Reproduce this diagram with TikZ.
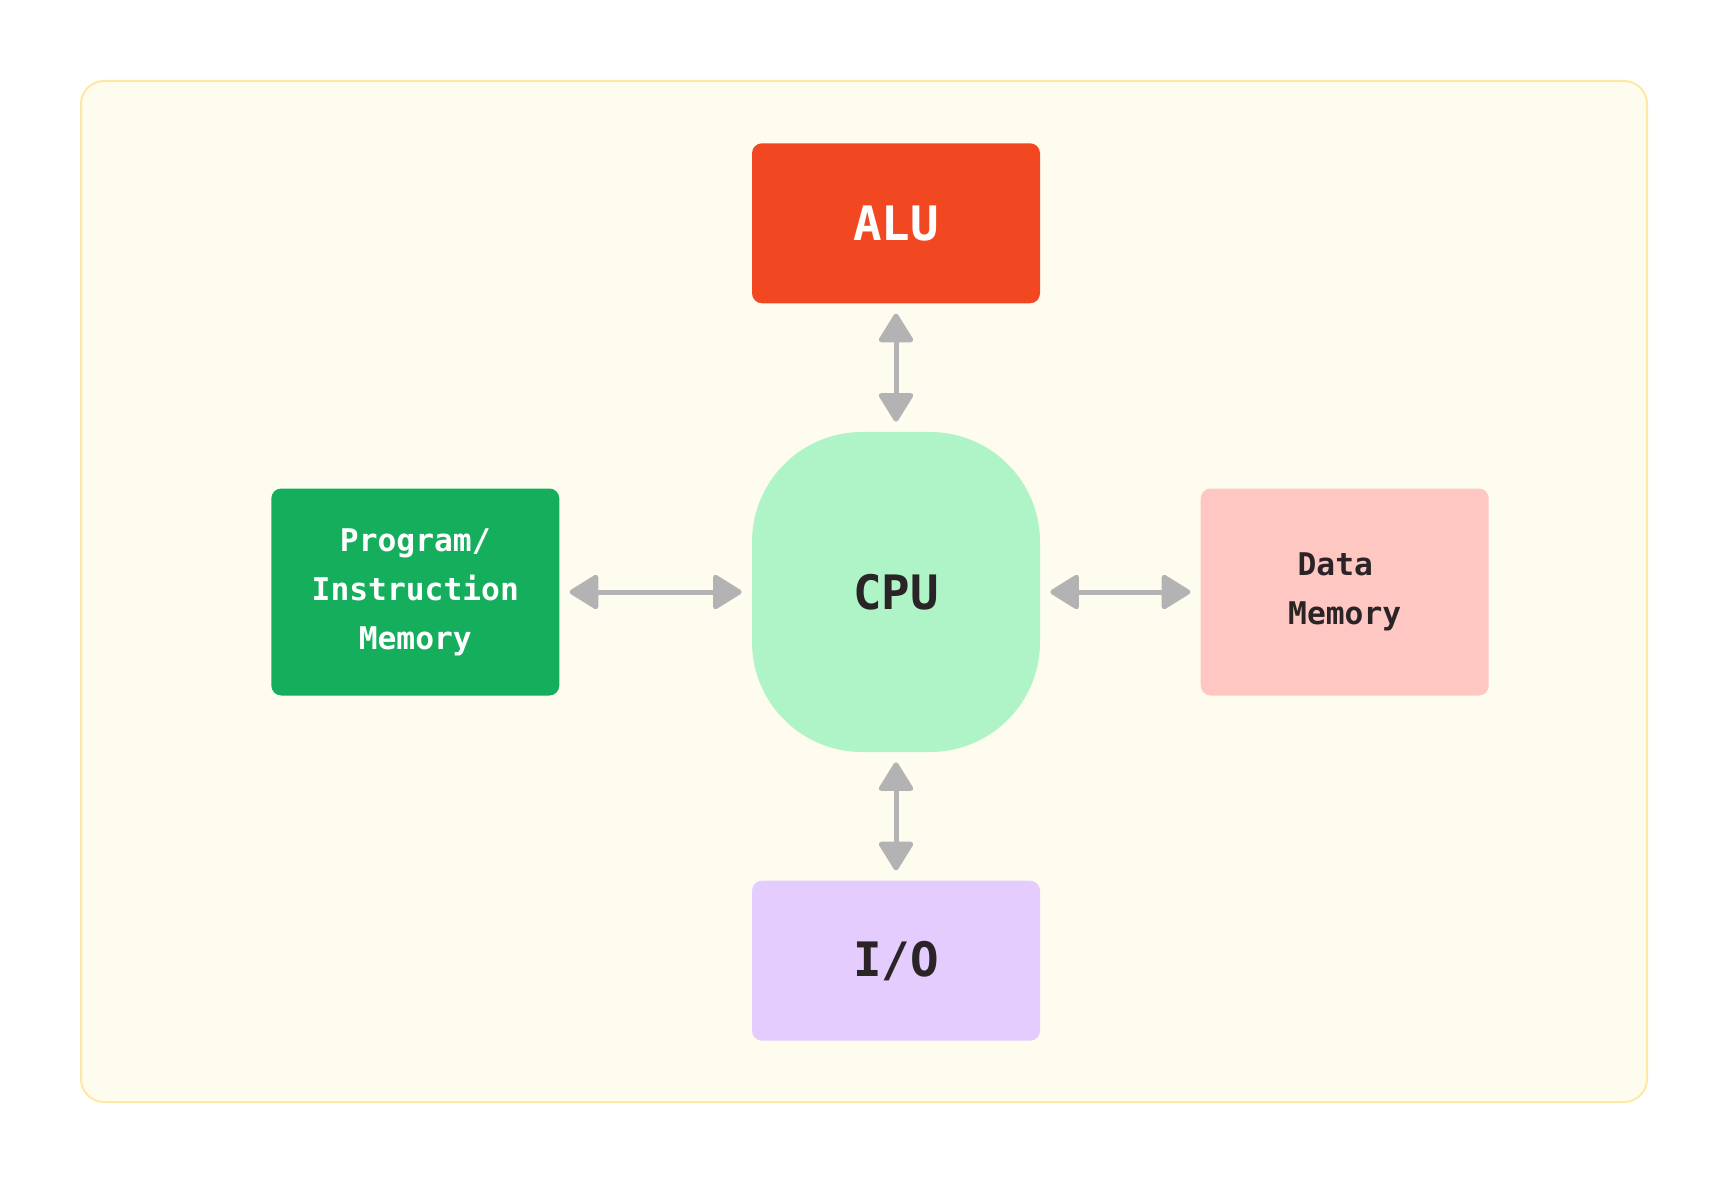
\documentclass[tikz,border=0pt]{standalone}
\usepackage{fontspec}
\newfontfamily\boxfont{DejaVu Sans Mono}
\usepackage{tikz}
\usetikzlibrary{arrows.meta,positioning}

\definecolor{framefill}{HTML}{FEFCEF}
\definecolor{framedraw}{HTML}{FFE8A3}
\definecolor{alured}{HTML}{F24822}
\definecolor{progreen}{HTML}{14AE5C}
\definecolor{cpugreen}{HTML}{AFF4C6}
\definecolor{datapink}{HTML}{FFC7C2}
\definecolor{iolilac}{HTML}{E4CCFF}
\definecolor{linkgray}{HTML}{B3B3B3}
\definecolor{darktext}{HTML}{2A2427}

\begin{document}
\begin{tikzpicture}
		\tikzset{
			unit/.style={rectangle, rounded corners=0.2cm, minimum width=5.76cm, minimum height=3.2cm, inner sep=0pt, align=center, font=\boxfont\bfseries\fontsize{27pt}{32pt}\selectfont},
			memory/.style={unit, minimum height=4.14cm, font=\boxfont\bfseries\fontsize{17.8pt}{27.8pt}\selectfont},
			link/.style={draw=linkgray, line width=0.1cm, {Triangle[length=0.62cm, width=0.74cm, round]}-{Triangle[length=0.62cm, width=0.74cm, round]}, shorten >=0.2cm, shorten <=0.2cm}
		}

		\useasboundingbox (0,0) rectangle (34.56,-23.68);

		% Background panel
		\draw[fill=framefill, draw=framedraw, line width=0.04cm, rounded corners=0.46cm] (1.62,-1.62) rectangle (32.94,-22.04);

		% CPU in the middle
		\node[unit, fill=cpugreen, text=darktext, minimum height=6.4cm, rounded corners=2.2cm] (cpu) at (17.92,-11.84) {CPU};

		% Units round the CPU
		\node[unit, fill=alured, text=white, above=2.56cm of cpu] (alu) {\raisebox{-0.06cm}{ALU}};
		\node[unit, fill=iolilac, text=darktext, below=2.56cm of cpu] (io) {I/O};
		\node[memory, fill=progreen, text=white, left=3.84cm of cpu] (prog) {Program/\\Instruction\\Memory};
		\node[memory, fill=datapink, text=darktext, right=3.2cm of cpu] (data) {Data\hphantom{a}\\Memory};

		% Two-way links
		\draw[link] (alu) -- (cpu);
		\draw[link] (cpu) -- (io);
		\draw[link] (prog) -- (cpu);
		\draw[link] (cpu) -- (data);

	\end{tikzpicture}
\end{document}
